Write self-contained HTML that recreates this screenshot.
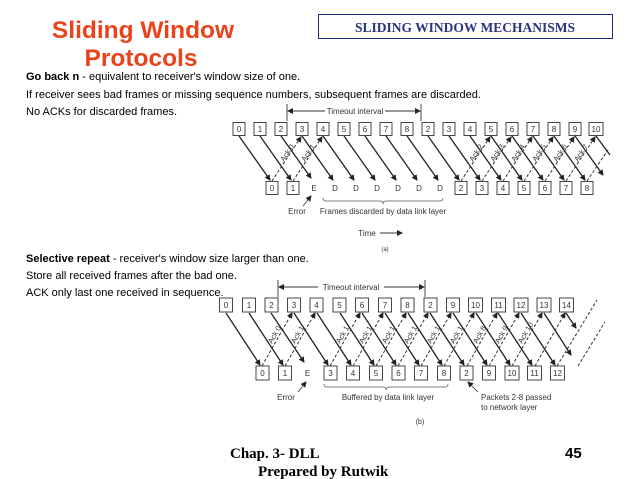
<!DOCTYPE html>
<html><head><meta charset="utf-8"><style>
html,body{margin:0;padding:0;background:#fff}
svg{display:block}
.s{font-family:"Liberation Sans",sans-serif}
.d{font-family:"Liberation Sans",sans-serif;font-size:8px;fill:#333}
.b rect{fill:#fff;stroke:#333;stroke-width:0.9}
.f line{stroke:#222;stroke-width:1.3;marker-end:url(#ah)}
.a line{stroke:#333;stroke-width:1;stroke-dasharray:3,2;marker-end:url(#ah)}
.k{font-family:"Liberation Sans",sans-serif;font-size:7.5px;fill:#333}
</style></head><body>
<svg width="638" height="479" viewBox="0 0 638 479" xmlns="http://www.w3.org/2000/svg">
<defs><marker id="ah" markerWidth="6" markerHeight="6" refX="5" refY="3" orient="auto" markerUnits="userSpaceOnUse"><path d="M0,0 L6,3 L0,6 z" fill="#222"/></marker></defs>

<text x="143" y="38" text-anchor="middle" class="s" font-size="24.5" font-weight="bold" fill="#e8431b">Sliding Window</text>
<text x="141" y="66" text-anchor="middle" class="s" font-size="24.5" font-weight="bold" fill="#e8431b">Protocols</text>
<rect x="318.5" y="14.5" width="294" height="24" fill="none" stroke="#1f2a7a" stroke-width="1"/>
<text x="465" y="32" text-anchor="middle" font-family="Liberation Serif,serif" font-size="13.5" font-weight="bold" fill="#2a3580">SLIDING  WINDOW  MECHANISMS</text>

<text x="26" y="80" class="s" font-size="11"><tspan font-weight="bold">Go back n</tspan> - equivalent to receiver's window size of one.</text>
<text x="26" y="98" class="s" font-size="11">If receiver sees bad frames or missing sequence numbers, subsequent frames are discarded.</text>
<text x="26" y="115" class="s" font-size="11">No ACKs for discarded frames.</text>

<text x="26" y="262" class="s" font-size="11"><tspan font-weight="bold">Selective repeat</tspan> - receiver's window size larger than one.</text>
<text x="26" y="279" class="s" font-size="11">Store all received frames after the bad one.</text>
<text x="26" y="296" class="s" font-size="11">ACK only last one received in sequence.</text>

<!-- (a) -->
<g stroke="#333" stroke-width="0.9">
<line x1="287" y1="104" x2="287" y2="121"/><line x1="421" y1="104" x2="421" y2="121"/>
<line x1="288" y1="111" x2="420" y2="111" marker-end="url(#ah)"/><line x1="420" y1="111" x2="288" y2="111" marker-end="url(#ah)"/>
</g>
<rect x="325" y="106" width="60" height="10" fill="#fff"/>
<text x="355" y="114" text-anchor="middle" class="d">Timeout interval</text>

<g class="f">
<line x1="239" y1="136" x2="270" y2="180"/><line x1="260" y1="136" x2="291" y2="180"/><line x1="281" y1="136" x2="311" y2="178"/>
<line x1="302" y1="136" x2="333" y2="180"/><line x1="323" y1="136" x2="354" y2="180"/><line x1="344" y1="136" x2="375" y2="180"/>
<line x1="365" y1="136" x2="396" y2="180"/><line x1="386" y1="136" x2="417" y2="180"/><line x1="407" y1="136" x2="438" y2="180"/>
<line x1="428" y1="136" x2="459" y2="180"/><line x1="449" y1="136" x2="480" y2="180"/><line x1="470" y1="136" x2="501" y2="180"/>
<line x1="491" y1="136" x2="522" y2="180"/><line x1="512" y1="136" x2="543" y2="180"/><line x1="533" y1="136" x2="564" y2="180"/>
<line x1="554" y1="136" x2="585" y2="180"/><line x1="575" y1="136" x2="603" y2="175"/>
</g>
<line x1="596" y1="136" x2="610" y2="155" stroke="#222" stroke-width="1.3"/>
<g class="a">
<line x1="272" y1="181" x2="301" y2="137"/><line x1="293" y1="181" x2="322" y2="137"/>
<line x1="461" y1="181" x2="490" y2="137"/><line x1="482" y1="181" x2="511" y2="137"/><line x1="503" y1="181" x2="532" y2="137"/>
<line x1="524" y1="181" x2="553" y2="137"/><line x1="545" y1="181" x2="574" y2="137"/><line x1="566" y1="181" x2="595" y2="137"/>
</g>
<line x1="587" y1="181" x2="608" y2="150" stroke="#333" stroke-width="1" stroke-dasharray="3,2"/>
<g class="k">
<text transform="translate(284,162) rotate(-56)">Ack 0</text>
<text transform="translate(305,162) rotate(-56)">Ack 1</text>
<text transform="translate(473,162) rotate(-56)">Ack 2</text>
<text transform="translate(494,162) rotate(-56)">Ack 3</text>
<text transform="translate(515,162) rotate(-56)">Ack 4</text>
<text transform="translate(536,162) rotate(-56)">Ack 5</text>
<text transform="translate(557,162) rotate(-56)">Ack 6</text>
<text transform="translate(578,162) rotate(-56)">Ack 7</text>
</g>
<g class="b">
<rect x="233" y="122.5" width="12" height="13"/><rect x="254" y="122.5" width="12" height="13"/><rect x="275" y="122.5" width="12" height="13"/>
<rect x="296" y="122.5" width="12" height="13"/><rect x="317" y="122.5" width="12" height="13"/><rect x="338" y="122.5" width="12" height="13"/>
<rect x="359" y="122.5" width="12" height="13"/><rect x="380" y="122.5" width="12" height="13"/><rect x="401" y="122.5" width="12" height="13"/>
<rect x="422" y="122.5" width="12" height="13"/><rect x="443" y="122.5" width="12" height="13"/><rect x="464" y="122.5" width="12" height="13"/>
<rect x="485" y="122.5" width="12" height="13"/><rect x="506" y="122.5" width="12" height="13"/><rect x="527" y="122.5" width="12" height="13"/>
<rect x="548" y="122.5" width="12" height="13"/><rect x="569" y="122.5" width="12" height="13"/><rect x="589" y="122.5" width="14" height="13"/>
<rect x="266" y="181.5" width="12" height="13"/><rect x="287" y="181.5" width="12" height="13"/>
<rect x="455" y="181.5" width="12" height="13"/><rect x="476" y="181.5" width="12" height="13"/><rect x="497" y="181.5" width="12" height="13"/>
<rect x="518" y="181.5" width="12" height="13"/><rect x="539" y="181.5" width="12" height="13"/><rect x="560" y="181.5" width="12" height="13"/>
<rect x="581" y="181.5" width="12" height="13"/>
</g>
<g class="d" text-anchor="middle">
<text x="239" y="132">0</text><text x="260" y="132">1</text><text x="281" y="132">2</text><text x="302" y="132">3</text><text x="323" y="132">4</text><text x="344" y="132">5</text><text x="365" y="132">6</text><text x="386" y="132">7</text><text x="407" y="132">8</text><text x="428" y="132">2</text><text x="449" y="132">3</text><text x="470" y="132">4</text><text x="491" y="132">5</text><text x="512" y="132">6</text><text x="533" y="132">7</text><text x="554" y="132">8</text><text x="575" y="132">9</text><text x="596" y="132">10</text>
<text x="272" y="191">0</text><text x="293" y="191">1</text><text x="314" y="191">E</text><text x="335" y="191">D</text><text x="356" y="191">D</text><text x="377" y="191">D</text><text x="398" y="191">D</text><text x="419" y="191">D</text><text x="440" y="191">D</text><text x="461" y="191">2</text><text x="482" y="191">3</text><text x="503" y="191">4</text><text x="524" y="191">5</text><text x="545" y="191">6</text><text x="566" y="191">7</text><text x="587" y="191">8</text>
<text x="297" y="214">Error</text>
<text x="383" y="214">Frames discarded by data link layer</text>
<text x="367" y="236">Time</text>
<text x="385" y="251" font-size="6">(a)</text>
</g>
<line x1="303" y1="206" x2="311" y2="196" stroke="#333" stroke-width="0.8" marker-end="url(#ah)"/>
<path d="M323,198 q0,3 3,3 h54 q3,0 3,3 q0,-3 3,-3 h54 q3,0 3,-3" fill="none" stroke="#555" stroke-width="0.7"/>
<line x1="380" y1="233" x2="402" y2="233" stroke="#333" stroke-width="0.9" marker-end="url(#ah)"/>

<!-- (b) -->
<g stroke="#333" stroke-width="0.9">
<line x1="278" y1="280" x2="278" y2="297"/><line x1="425" y1="280" x2="425" y2="297"/>
<line x1="279" y1="287" x2="424" y2="287" marker-end="url(#ah)"/><line x1="424" y1="287" x2="279" y2="287" marker-end="url(#ah)"/>
</g>
<rect x="318" y="282" width="66" height="10" fill="#fff"/>
<text x="351" y="290" text-anchor="middle" class="d">Timeout interval</text>

<g class="f">
<line x1="226" y1="313" x2="260" y2="365"/><line x1="249" y1="313" x2="283" y2="365"/><line x1="271" y1="313" x2="304" y2="362"/>
<line x1="294" y1="313" x2="328" y2="365"/><line x1="317" y1="313" x2="351" y2="365"/><line x1="340" y1="313" x2="374" y2="365"/>
<line x1="362" y1="313" x2="396" y2="365"/><line x1="385" y1="313" x2="419" y2="365"/><line x1="408" y1="313" x2="442" y2="365"/>
<line x1="430" y1="313" x2="464" y2="365"/><line x1="453" y1="313" x2="487" y2="365"/><line x1="476" y1="313" x2="510" y2="365"/>
<line x1="498" y1="313" x2="532" y2="365"/><line x1="521" y1="313" x2="555" y2="365"/><line x1="544" y1="313" x2="571" y2="355"/>
<line x1="566" y1="313" x2="576" y2="328"/>
</g>
<g class="a">
<line x1="262" y1="366" x2="292" y2="313"/><line x1="285" y1="366" x2="315" y2="313"/>
<line x1="330" y1="366" x2="360" y2="313"/><line x1="353" y1="366" x2="383" y2="313"/><line x1="376" y1="366" x2="406" y2="313"/>
<line x1="398" y1="366" x2="428" y2="313"/><line x1="421" y1="366" x2="451" y2="313"/><line x1="444" y1="366" x2="474" y2="313"/>
<line x1="467" y1="366" x2="497" y2="313"/><line x1="489" y1="366" x2="519" y2="313"/><line x1="512" y1="366" x2="542" y2="313"/>
<line x1="535" y1="366" x2="565" y2="313"/>
</g>
<line x1="557" y1="366" x2="597" y2="300" stroke="#333" stroke-width="1" stroke-dasharray="3,2"/>
<line x1="578" y1="366" x2="605" y2="322" stroke="#333" stroke-width="1" stroke-dasharray="3,2"/>
<g class="k">
<text transform="translate(272,344) rotate(-60)">Ack 0</text>
<text transform="translate(295,344) rotate(-60)">Ack 1</text>
<text transform="translate(340,344) rotate(-60)">Ack 1</text>
<text transform="translate(363,344) rotate(-60)">Ack 1</text>
<text transform="translate(386,344) rotate(-60)">Ack 1</text>
<text transform="translate(408,344) rotate(-60)">Ack 1</text>
<text transform="translate(431,344) rotate(-60)">Ack 1</text>
<text transform="translate(454,344) rotate(-60)">Ack 1</text>
<text transform="translate(477,344) rotate(-60)">Ack 8</text>
<text transform="translate(499,344) rotate(-60)">Ack 9</text>
<text transform="translate(522,344) rotate(-60)">Ack 10</text>
</g>
<g class="b">
<rect x="219.5" y="298" width="13" height="14"/><rect x="242.5" y="298" width="13" height="14"/><rect x="265" y="298" width="13" height="14"/>
<rect x="287.5" y="298" width="13" height="14"/><rect x="310" y="298" width="13" height="14"/><rect x="333" y="298" width="13" height="14"/>
<rect x="355.5" y="298" width="13" height="14"/><rect x="378.5" y="298" width="13" height="14"/><rect x="401" y="298" width="13" height="14"/>
<rect x="424" y="298" width="13" height="14"/><rect x="446.5" y="298" width="13" height="14"/><rect x="468.5" y="298" width="14" height="14"/>
<rect x="491.5" y="298" width="14" height="14"/><rect x="514" y="298" width="14" height="14"/><rect x="537" y="298" width="14" height="14"/>
<rect x="559.5" y="298" width="14" height="14"/>
<rect x="256" y="366" width="13" height="14"/><rect x="278.5" y="366" width="13" height="14"/>
<rect x="324" y="366" width="13" height="14"/><rect x="346.5" y="366" width="13" height="14"/><rect x="369.5" y="366" width="13" height="14"/>
<rect x="392" y="366" width="13" height="14"/><rect x="414.5" y="366" width="13" height="14"/><rect x="437.5" y="366" width="13" height="14"/>
<rect x="460" y="366" width="13" height="14"/><rect x="482.5" y="366" width="13" height="14"/><rect x="505" y="366" width="14" height="14"/>
<rect x="527.5" y="366" width="14" height="14"/><rect x="550.5" y="366" width="14" height="14"/>
</g>
<g class="d" text-anchor="middle">
<text x="226" y="308">0</text><text x="249" y="308">1</text><text x="271.5" y="308">2</text><text x="294" y="308">3</text><text x="316.5" y="308">4</text><text x="339.5" y="308">5</text><text x="362" y="308">6</text><text x="385" y="308">7</text><text x="407.5" y="308">8</text><text x="430.5" y="308">2</text><text x="453" y="308">9</text><text x="475.5" y="308">10</text><text x="498.5" y="308">11</text><text x="521" y="308">12</text><text x="544" y="308">13</text><text x="566.5" y="308">14</text>
<text x="262.5" y="376">0</text><text x="285" y="376">1</text><text x="307.5" y="376">E</text><text x="330.5" y="376">3</text><text x="353" y="376">4</text><text x="376" y="376">5</text><text x="398.5" y="376">6</text><text x="421" y="376">7</text><text x="444" y="376">8</text><text x="466.5" y="376">2</text><text x="489" y="376">9</text><text x="512" y="376">10</text><text x="534.5" y="376">11</text><text x="557.5" y="376">12</text>
<text x="286" y="400">Error</text>
<text x="388" y="400">Buffered by data link layer</text>
<text x="420" y="424" font-size="7">(b)</text>
</g>
<g class="d"><text x="481" y="400">Packets 2-8 passed</text><text x="481" y="410">to network layer</text></g>
<line x1="298" y1="392" x2="306" y2="382" stroke="#333" stroke-width="0.8" marker-end="url(#ah)"/>
<line x1="478" y1="392" x2="468" y2="382" stroke="#333" stroke-width="0.8" marker-end="url(#ah)"/>
<path d="M324,384 q0,3 3,3 h56 q3,0 3,3 q0,-3 3,-3 h56 q3,0 3,-3" fill="none" stroke="#555" stroke-width="0.7"/>

<text x="230" y="458" font-family="Liberation Serif,serif" font-size="15" font-weight="bold">Chap. 3- DLL</text>
<text x="258" y="476" font-family="Liberation Serif,serif" font-size="15" font-weight="bold">Prepared by Rutwik</text>
<text x="565" y="458" class="s" font-size="15" font-weight="bold">45</text>
</svg>
</body></html>
